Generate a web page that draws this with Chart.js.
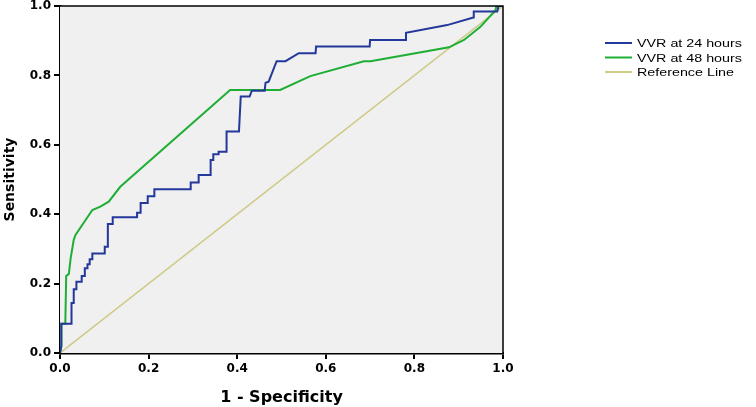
<!DOCTYPE html>
<html>
<head>
<meta charset="utf-8">
<script src="https://cdn.jsdelivr.net/npm/chart.js@4/dist/chart.umd.min.js"></script>
<style>
  html, body { margin: 0; padding: 0; background: #fff; }
  #wrap { width: 756px; height: 407px; }
</style>
</head>
<body>
<div id="wrap"><canvas id="rocChart"></canvas></div>
<script>
// ROC curve points (1 - specificity, sensitivity)
const fpr24 = [0, 0.003, 0.003, 0.026, 0.026, 0.031, 0.031, 0.037, 0.037, 0.049, 0.049, 0.056, 0.056, 0.062, 0.062, 0.067, 0.067, 0.073, 0.073, 0.101, 0.101, 0.108, 0.108, 0.119, 0.119, 0.174, 0.174, 0.182, 0.182, 0.198, 0.198, 0.213, 0.213, 0.295, 0.295, 0.313, 0.313, 0.340, 0.340, 0.346, 0.346, 0.358, 0.358, 0.376, 0.376, 0.404, 0.408, 0.428, 0.433, 0.462, 0.464, 0.471, 0.489, 0.509, 0.539, 0.577, 0.578, 0.699, 0.700, 0.780, 0.781, 0.874, 0.933, 0.934, 0.987, 0.990, 1];
const tpr24 = [0, 0.020, 0.084, 0.084, 0.144, 0.144, 0.184, 0.184, 0.205, 0.205, 0.222, 0.222, 0.244, 0.244, 0.256, 0.256, 0.270, 0.270, 0.287, 0.287, 0.306, 0.306, 0.372, 0.372, 0.391, 0.391, 0.404, 0.404, 0.432, 0.432, 0.452, 0.452, 0.472, 0.472, 0.491, 0.491, 0.513, 0.513, 0.556, 0.556, 0.573, 0.573, 0.580, 0.580, 0.638, 0.638, 0.739, 0.739, 0.756, 0.756, 0.779, 0.782, 0.841, 0.841, 0.864, 0.864, 0.883, 0.883, 0.902, 0.902, 0.923, 0.945, 0.967, 0.984, 0.984, 1.0, 1.0];

const fpr48 = [0, 0.003, 0.003, 0.012, 0.014, 0.020, 0.024, 0.031, 0.035, 0.073, 0.091, 0.110, 0.136, 0.384, 0.497, 0.565, 0.686, 0.701, 0.878, 0.912, 0.949, 0.983, 0.985, 1];
const tpr48 = [0, 0.020, 0.084, 0.084, 0.222, 0.228, 0.273, 0.326, 0.340, 0.412, 0.422, 0.436, 0.479, 0.758, 0.758, 0.798, 0.841, 0.841, 0.881, 0.902, 0.940, 0.988, 1.0, 1.0];

const refX = [0, 1];
const refY = [0, 1];

const seriesLabels = ['VVR at 24 hours', 'VVR at 48 hours', 'Reference Line'];
const tickValues = [0, 0.2, 0.4, 0.6, 0.8, 1.0];

const toPoints = (xs, ys) => xs.map((x, i) => ({ x: x, y: ys[i] }));

// grey plot area + thin frame on top/right
const plotFrame = {
    id: 'plotFrame',
    beforeDatasetsDraw(chart) {
        const { ctx, chartArea: a } = chart;
        ctx.save();
        ctx.fillStyle = '#f0f0f0';
        ctx.fillRect(a.left, a.top, a.right - a.left, a.bottom - a.top);
        ctx.restore();
    },
    afterDraw(chart) {
        const { ctx, chartArea: a } = chart;
        ctx.save();
        ctx.strokeStyle = '#000';
        ctx.lineWidth = 1.5;
        ctx.beginPath();
        ctx.moveTo(a.left, a.top);
        ctx.lineTo(a.right, a.top);
        ctx.lineTo(a.right, a.bottom);
        ctx.stroke();
        ctx.restore();
    }
};

// legend off to the right, like the original export
const sideLegend = {
    id: 'sideLegend',
    afterDraw(chart) {
        const ctx = chart.ctx;
        ctx.save();
        chart.data.datasets.forEach((ds, i) => {
            const y = 43 + i * 14.5;
            ctx.strokeStyle = ds.borderColor;
            ctx.lineWidth = 2;
            ctx.beginPath();
            ctx.moveTo(605, y);
            ctx.lineTo(632, y);
            ctx.stroke();
            ctx.save();
            ctx.translate(637, y);
            ctx.scale(1.3, 1);
            ctx.fillStyle = '#000';
            ctx.font = '11px "Liberation Sans", Arial, sans-serif';
            ctx.textBaseline = 'middle';
            ctx.fillText(ds.label, 0, 1);
            ctx.restore();
        });
        ctx.restore();
    }
};

const axisCommon = {
    type: 'linear',
    min: 0,
    max: 1,
    afterBuildTicks: scale => { scale.ticks = tickValues.map(v => ({ value: v })); },
    ticks: {
        color: '#000',
        padding: 3,
        font: { family: '"DejaVu Sans", sans-serif', size: 12, weight: 'bold' },
        callback: v => Number(v).toFixed(1)
    },
    grid: { drawOnChartArea: false, drawTicks: true, tickLength: 6, color: '#000', lineWidth: 2 },
    border: { color: '#000', width: 2.5 }
};

new Chart(document.getElementById('rocChart'), {
    type: 'line',
    data: {
        datasets: [
            { label: seriesLabels[0], data: toPoints(fpr24, tpr24), borderColor: '#23389a', borderWidth: 2 },
            { label: seriesLabels[1], data: toPoints(fpr48, tpr48), borderColor: '#1fae35', borderWidth: 2 },
            { label: seriesLabels[2], data: toPoints(refX, refY), borderColor: '#cfcb8a', borderWidth: 1.6 }
        ]
    },
    options: {
        responsive: true,
        maintainAspectRatio: false,
        animation: false,
        elements: { point: { radius: 0 }, line: { tension: 0, fill: false } },
        layout: { padding: { top: 6, right: 253, left: 0, bottom: 0 } },
        plugins: { legend: { display: false }, tooltip: { enabled: false } },
        scales: {
            x: Object.assign({}, axisCommon, {
                afterFit: scale => { scale.height = 54; scale.paddingRight = 0; scale.paddingLeft = 0; },
                title: { display: true, text: '1 - Specificity', color: '#000', padding: 0,
                         font: { family: '"DejaVu Sans", sans-serif', size: 16, weight: 'bold' } }
            }),
            y: Object.assign({}, axisCommon, {
                afterFit: scale => { scale.width = 60; scale.paddingTop = 0; scale.paddingBottom = 0; },
                title: { display: true, text: 'Sensitivity', color: '#000', padding: 2,
                         font: { family: '"DejaVu Sans", sans-serif', size: 14, weight: 'bold' } }
            })
        }
    },
    plugins: [plotFrame, sideLegend]
});
</script>
</body>
</html>
